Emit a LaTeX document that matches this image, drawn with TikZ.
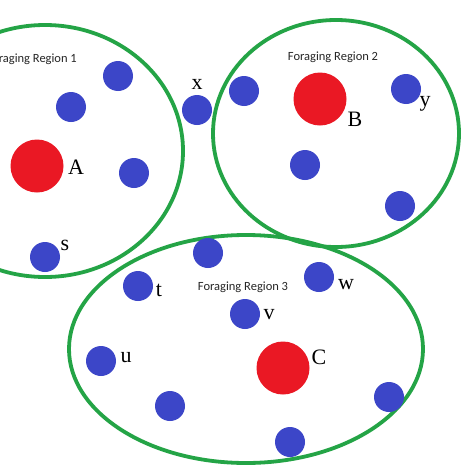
\documentclass[tikz,border=0pt]{standalone}
\usepackage{fontspec}
\setmainfont{Liberation Serif}
\newfontfamily\titlefont{Carlito}
\begin{document}
\begin{tikzpicture}[x=1pt,y=-1pt,
  region/.style={draw=rgreen,line width=3.8pt},
  bdot/.style={circle,fill=rblue,minimum size=30pt,inner sep=0pt},
  rdot/.style={circle,fill=rred,minimum size=53pt,inner sep=0pt},
  lbl/.style={font=\fontsize{22}{22}\selectfont,inner sep=0pt},
  ttl/.style={font=\titlefont\fontsize{12.5}{12.5}\selectfont,text=black!85,inner sep=0pt}]
\definecolor{rgreen}{RGB}{36,164,70}
\definecolor{rblue}{RGB}{60,70,200}
\definecolor{rred}{RGB}{234,24,36}
\useasboundingbox (0,0) rectangle (474,474);
\fill[white] (0,0) rectangle (474,474);
% regions
\draw[region] (45,151) ellipse [x radius=138, y radius=126];
\draw[region] (336,133.5) ellipse [x radius=123, y radius=113.5];
\draw[region] (246,349) ellipse [x radius=177, y radius=114];
% titles
\node[ttl,anchor=east] (t1) at (77,59) {Foraging Region 1};
\node[ttl] (t2) at (333,57) {Foraging Region 2};
\node[ttl] (t3) at (243,287) {Foraging Region 3};
% region 1
\node[bdot] (d1) at (118,76) {};
\node[bdot] (d2) at (71,107) {};
\node[bdot] (d3) at (134,173) {};
\node[rdot] (A) at (37,166) {};
\node[lbl] (lA) at (76,167) {A};
\node[bdot] (s) at (45,257) {};
\node[lbl] (ls) at (65,245) {s};
% x
\node[bdot] (x) at (197,110) {};
\node[lbl] (lx) at (197,84) {x};
% region 2
\node[bdot] (d4) at (244,91) {};
\node[rdot] (B) at (320,99) {};
\node[lbl] (lB) at (355,119) {B};
\node[bdot] (y) at (406,89) {};
\node[lbl] (ly) at (425,104) {y};
\node[bdot] (d5) at (305,165) {};
\node[bdot] (d6) at (400,206) {};
% region 3
\node[bdot] (d7) at (208,253) {};
\node[bdot] (t) at (138,286) {};
\node[lbl] (lt) at (159,290) {t};
\node[bdot] (w) at (319,277) {};
\node[lbl] (lw) at (346,285) {w};
\node[bdot] (v) at (245,314) {};
\node[lbl] (lv) at (269,315) {v};
\node[bdot] (u) at (101,361) {};
\node[lbl] (lu) at (126,358) {u};
\node[rdot] (C) at (283,368) {};
\node[lbl] (lC) at (319,357) {C};
\node[bdot] (d8) at (170,406) {};
\node[bdot] (d9) at (389,397) {};
\node[bdot] (d10) at (290,442) {};
\end{tikzpicture}
\end{document}
